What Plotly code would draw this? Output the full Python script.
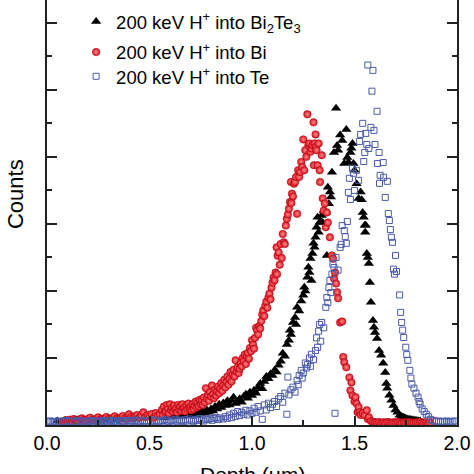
import plotly.graph_objects as go

# ---------------- data (depth in um, counts in arbitrary units) ----------------
bi2te3_x = [0.05,0.07,0.09,0.11,0.13,0.15,0.17,0.19,0.21,0.23,0.25,0.27,0.29,0.31,0.33,0.35,0.37,0.39,0.41,0.43,0.45,0.47,0.49,0.51,0.53,0.55,
            0.56,0.57,0.58,0.59,0.60,0.61,0.62,0.63,0.64,0.65,0.66,0.67,0.68,0.69,0.70,0.71,0.72,0.73,0.74,0.75,0.76,0.77,0.78,0.79,0.80,
            0.81,0.82,0.83,0.84,0.85,0.86,0.87,0.88,0.89,0.90,0.91,0.92,0.93,0.94,0.95,0.96,0.97,0.98,0.99,1.00,1.01,1.02,1.03,1.04,1.05,
            1.06,1.07,1.08,1.09,1.10,1.11,1.12,1.13,1.14,1.15,1.16,1.17,1.18,1.185,1.19,1.20,1.21,1.215,1.22,1.23,1.24,1.25,1.255,1.26,
            1.27,1.275,1.28,1.285,1.29,1.295,1.30,1.305,1.31,1.315,1.32,1.325,1.33,1.34,1.345,1.35,1.36,1.365,1.37,1.375,1.38,1.385,1.39,
            1.40,1.41,1.415,1.42,1.43,1.44,1.45,1.46,1.465,1.47,1.48,1.485,1.49,1.495,1.50,1.51,1.52,1.53,1.535,1.54,1.545,1.55,1.552,
            1.555,1.56,1.565,1.57,1.575,1.58,1.59,1.595,1.60,1.61,1.62,1.63,1.64,1.65,1.655,1.66,1.67,1.68,1.69,1.70,1.71,1.72,1.73,1.74,
            1.75,1.76,1.77,1.78,1.79,1.80,1.81,1.82]
bi2te3_y = [12,10,14,12,15,13,16,14,17,15,18,16,20,17,22,18,21,19,23,20,24,21,25,22,26,24,
            28,22,32,26,30,24,34,28,32,26,36,30,34,28,38,32,36,30,40,34,42,36,45,38,48,
            42,55,48,62,52,66,58,72,60,74,83,64,70,78,68,85,92,80,98,88,104,95,112,124,108,
            130,145,138,152,148,163,158,178,190,214,205,240,253,283,270,306,321,300,351,340,370,387,411,400,
            441,471,455,497,431,512,542,530,560,590,620,575,605,625,604,640,634,506,709,660,695,680,754,
            813,945,834,820,865,849,780,882,798,784,813,826,840,780,760,720,676,695,672,634,620,596,575,
            596,512,500,482,425,366,312,292,276,258,222,208,184,157,124,110,89,74,58,45,38,29,25,23,
            20,18,17,16,15,14,13,12]

bi_x = [0.08,0.09,0.10,0.11,0.12,0.13,0.14,0.15,0.16,0.17,0.18,0.19,0.20,0.21,0.22,0.23,0.24,0.25,0.26,0.27,0.28,0.29,0.30,
        0.31,0.32,0.33,0.34,0.35,0.36,0.37,0.38,0.39,0.40,0.41,0.42,0.43,0.44,0.45,0.46,0.47,0.48,0.49,0.50,0.51,0.52,0.53,0.54,0.55,
        0.56,0.565,0.57,0.575,0.58,0.585,0.59,0.595,0.60,0.605,0.61,0.615,0.62,0.625,0.63,0.635,0.64,0.645,0.65,0.655,0.66,0.665,
        0.67,0.675,0.68,0.685,0.69,0.695,0.70,0.705,0.71,0.715,0.72,0.725,0.73,0.735,0.74,0.745,0.75,0.755,0.76,0.765,0.77,0.775,
        0.78,0.785,0.79,0.795,0.80,0.805,0.81,0.815,0.82,0.825,0.83,0.835,0.84,0.845,0.85,0.855,0.86,0.865,0.87,0.875,0.88,0.885,
        0.89,0.895,0.90,0.905,0.91,0.915,0.92,0.925,0.93,0.935,0.94,0.945,0.95,0.955,0.96,0.965,0.97,0.975,0.98,0.985,0.99,0.995,
        1.00,1.005,1.01,1.015,1.02,1.025,1.03,1.035,1.04,1.045,1.05,1.055,1.06,1.065,1.07,1.075,1.08,1.085,1.09,1.095,1.10,1.105,
        1.11,1.115,1.12,1.122,1.125,1.13,1.135,1.14,1.145,1.15,1.155,1.16,1.165,1.17,1.175,1.18,1.185,1.19,1.192,1.195,1.20,1.205,
        1.21,1.215,1.22,1.225,1.23,1.235,1.24,1.245,1.25,1.255,1.26,1.265,1.27,1.275,1.28,1.285,1.29,1.295,1.30,1.302,1.305,1.31,
        1.312,1.315,1.32,1.325,1.33,1.332,1.34,1.345,1.35,1.355,1.36,1.365,1.37,1.38,1.39,1.395,1.40,1.405,1.41,1.415,1.42,1.43,
        1.44,1.445,1.45,1.46,1.475,1.48,1.485,1.49,1.50,1.505,1.51,1.515,1.52,1.525,1.53,1.54,1.55,1.56,1.565,1.57,1.58,1.59,
        1.60,1.61,1.62,1.63,1.64,1.65,1.66,1.67,1.68,1.69,1.70,1.71,1.72,1.73,1.74,1.75,1.76,1.77,1.78,1.79,1.80,1.81,1.82,1.83,
        1.84,1.85,1.86,1.87]
bi_y = [10,14,12,16,13,18,15,12,17,20,15,13,18,22,16,14,19,23,17,15,20,24,18,
        16,21,26,19,17,22,27,20,18,32,24,20,26,30,22,28,38,24,30,26,33,22,36,28,32,
        45,30,55,38,42,60,48,35,62,44,52,40,58,46,50,38,60,45,55,42,62,48,
        52,40,58,46,64,50,55,44,62,48,58,70,52,66,56,75,62,72,60,82,68,110,
        78,90,72,98,85,118,92,80,105,88,100,115,95,108,125,102,118,135,112,128,145,120,
        138,158,130,150,165,145,193,160,172,155,168,185,175,200,190,210,182,205,215,198,230,220,
        253,240,228,260,290,282,270,295,288,310,330,342,325,355,368,350,380,392,375,410,425,440,
        432,455,530,450,505,515,478,540,498,570,545,540,595,615,628,645,665,725,662,690,682,720,
        725,740,630,760,740,755,785,770,852,760,820,800,927,835,840,815,825,835,903,775,840,867,
        830,820,775,840,760,725,805,676,640,661,590,634,604,560,506,496,437,455,422,396,378,306,
        309,203,187,172,142,103,127,88,70,83,64,38,53,38,30,35,29,44,18,23,12,10,
        8,7,9,6,8,7,9,8,6,8,7,9,8,6,8,7,9,8,7,6,8,7,9,8,
        7,8,6,8]

te_x = [0.005,0.015,0.025,0.035,0.045,0.055,0.065,0.075,0.085,0.095,0.105,0.115,0.125,0.135,0.145,0.155,0.165,0.175,0.185,0.195,
        0.205,0.215,0.225,0.235,0.245,0.255,0.265,0.275,0.285,0.295,0.305,0.315,0.325,0.335,0.345,0.355,0.365,0.375,0.385,0.395,
        0.405,0.415,0.425,0.435,0.445,0.455,0.465,0.475,0.485,0.495,0.505,0.515,0.525,0.535,0.545,0.555,0.565,0.575,0.585,0.595,
        0.605,0.615,0.625,0.635,0.645,0.655,0.665,0.675,0.685,0.695,0.705,0.715,0.725,0.735,0.745,0.755,0.765,0.775,0.785,0.795,
        0.805,0.815,0.825,0.835,0.845,
        0.86,0.87,0.88,0.89,0.90,0.91,0.92,0.93,0.94,0.95,0.96,0.97,0.98,0.99,1.00,1.01,1.02,1.03,1.04,1.05,1.06,1.07,1.08,1.09,
        1.10,1.11,1.12,1.13,1.14,1.15,1.16,1.17,1.175,1.18,1.19,1.20,1.21,1.22,1.225,1.23,1.24,1.245,1.25,1.26,1.265,1.27,1.28,
        1.285,1.29,1.30,1.31,1.315,1.32,1.325,1.33,1.335,1.34,1.35,1.36,1.365,1.37,1.375,1.38,1.385,1.39,1.395,1.40,1.405,1.41,
        1.42,1.43,1.435,1.44,1.45,1.455,1.46,1.465,1.47,1.475,1.48,1.49,1.495,1.50,1.51,1.52,1.525,1.53,1.54,1.545,1.55,1.555,
        1.56,1.565,1.57,1.58,1.585,1.59,1.595,1.60,1.61,1.612,1.62,1.622,1.625,1.64,1.642,1.65,1.66,1.665,1.67,1.675,1.68,1.685,
        1.69,1.695,1.70,1.705,1.72,1.725,1.73,1.735,1.74,1.75,1.755,1.76,1.77,1.775,1.78,1.79,1.80,1.81,1.815,1.82,1.83,1.84,
        1.85,1.86,1.87,1.88,1.89,1.90,1.91,1.92,1.93,1.94,1.95,1.96,1.97,1.98,1.99]
te_y = [10,12,9,11,8,12,10,9,11,13,9,12,10,8,11,13,10,12,9,11,
        10,13,9,12,11,8,12,10,13,9,11,14,10,12,9,13,11,10,14,12,
        9,13,11,15,10,12,14,11,9,13,12,15,10,14,11,9,13,16,12,10,
        14,12,17,11,15,13,10,16,12,18,14,11,17,13,19,15,12,18,16,20,
        14,19,22,16,21,
        18,25,20,30,22,35,26,40,28,38,32,44,30,42,35,50,38,55,42,17,60,45,65,52,
        62,70,55,78,85,68,95,32,143,90,105,113,98,133,120,148,163,140,155,185,170,180,200,
        175,211,195,222,260,232,280,300,250,306,290,351,380,365,410,431,395,450,480,470,35,500,
        462,530,539,595,580,562,542,607,694,736,673,766,751,700,760,730,846,867,900,786,813,870,
        837,1074,825,888,996,1058,879,837,936,780,813,721,745,783,739,679,727,631,610,583,560,545,
        465,450,506,458,388,336,306,283,261,232,210,193,163,140,122,110,95,83,70,62,48,40,
        32,25,17,14,12,10,12,9,11,10,12,9,11,10,12]

series_names = ["200 keV H<sup>+</sup> into Bi<sub>2</sub>Te<sub>3</sub>",
                "200 keV H<sup>+</sup> into Bi",
                "200 keV H<sup>+</sup> into Te"]

x_ticks = [0.0, 0.5, 1.0, 1.5, 2.0]
x_tick_labels = ["0.0", "0.5", "1.0", "1.5", "2.0"]

FONT = "Arial, Liberation Sans, sans-serif"

fig = go.Figure()
fig.add_trace(go.Scatter(
    x=bi2te3_x, y=bi2te3_y, mode="markers", name=series_names[0],
    legend="legend",
    marker=dict(symbol="triangle-up", size=9, color="black", line=dict(width=0))))
fig.add_trace(go.Scatter(
    x=bi_x, y=bi_y, mode="markers", name=series_names[1],
    legend="legend2",
    marker=dict(symbol="circle", size=7.5, color="#dc121c",
                gradient=dict(type="radial", color="#ff8a8a"),
                line=dict(width=0.5, color="#a80010"))))
fig.add_trace(go.Scatter(
    x=te_x, y=te_y, mode="markers", name=series_names[2],
    legend="legend3",
    marker=dict(symbol="square-open", size=6, color="#4a5aa8", line=dict(width=1))))

# axis titles as annotations (plot is cropped at top in the reference)
fig.add_annotation(text="Counts", xref="paper", yref="paper", x=-0.078, y=0.5435,
                   textangle=-90, showarrow=False, xanchor="center", yanchor="middle",
                   font=dict(family=FONT, size=22, color="black"))
fig.add_annotation(text="Depth (μm)", xref="paper", yref="paper", x=0.5, y=-0.1176,
                   showarrow=False, xanchor="center", yanchor="middle",
                   font=dict(family=FONT, size=21, color="black"))

leg_common = dict(x=0.071, xanchor="left", yanchor="top",
                  bgcolor="rgba(0,0,0,0)", font=dict(family=FONT, size=18.5))

fig.update_layout(
    width=474, height=474,
    margin=dict(l=47, r=17, t=0, b=49),
    paper_bgcolor="white", plot_bgcolor="white",
    font=dict(family=FONT, color="black"),
    showlegend=True,
    legend=dict(y=0.993, **leg_common),
    legend2=dict(y=0.921, **leg_common),
    legend3=dict(y=0.864, **leg_common),
    xaxis=dict(range=[0, 2], tickvals=x_ticks, ticktext=x_tick_labels,
               ticks="inside", ticklen=9, tickwidth=1.5, tickcolor="#222",
               minor=dict(dtick=0.25, ticks="inside", ticklen=5, tickwidth=1.5, tickcolor="#222"),
               showline=True, linewidth=2, linecolor="#222", mirror=False,
               showgrid=False, zeroline=False,
               tickfont=dict(family=FONT, size=19.5, color="black")),
    yaxis=dict(range=[0, 1268], dtick=200, tick0=0,
               ticks="inside", ticklen=10, tickwidth=1.5, tickcolor="#222",
               minor=dict(dtick=100, ticks="inside", ticklen=5, tickwidth=1.5, tickcolor="#222"),
               showticklabels=False,
               showline=True, linewidth=2, linecolor="#222", mirror="ticks",
               showgrid=False, zeroline=False),
)

fig.write_html("out.html", config={"displayModeBar": False},
               post_script="document.body.style.margin='0';document.body.style.overflow='hidden';")
